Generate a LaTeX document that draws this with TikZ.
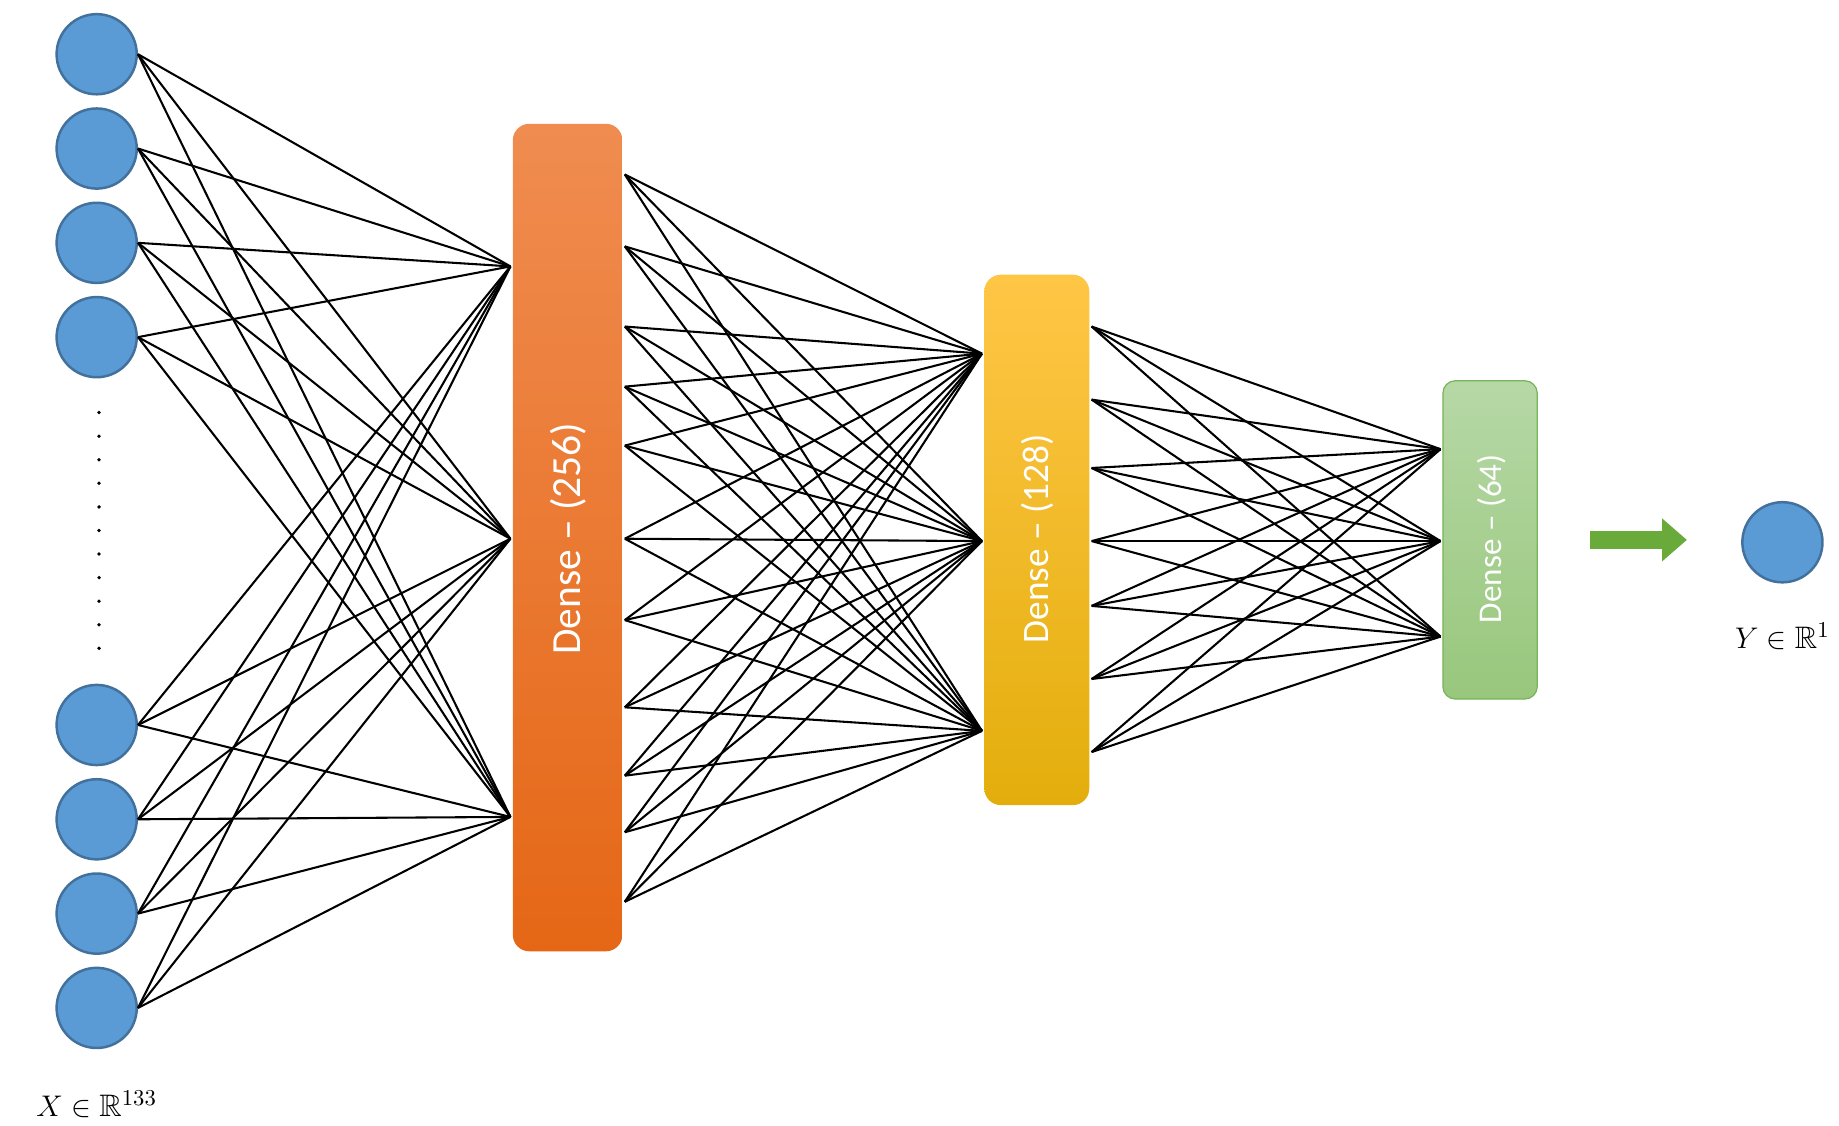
\documentclass[tikz,border=0pt]{standalone}
\usepackage{fontspec}
\usepackage{amssymb}
\setmainfont{Carlito}
\usetikzlibrary{arrows.meta}
\definecolor{cblue}{HTML}{5B9BD5}
\definecolor{cblueb}{HTML}{41719C}
\definecolor{oTop}{HTML}{F08C50}
\definecolor{oBot}{HTML}{E56716}
\definecolor{yTop}{HTML}{FFC646}
\definecolor{yBot}{HTML}{E3AE0C}
\definecolor{gTop}{HTML}{B6D8A6}
\definecolor{gBot}{HTML}{98C77C}
\definecolor{gEdge}{HTML}{78B45A}
\definecolor{gArrow}{HTML}{6AAA3A}
\tikzset{
  neuron/.style={circle,draw=cblueb,line width=1.2pt,fill=cblue,minimum size=1.36cm,inner sep=0pt},
  conn/.style={line width=1pt,black},
  boxtxt/.style={text=white,rotate=90},
}
\begin{document}
\begin{tikzpicture}[x=0.02cm,y=-0.02cm]
\useasboundingbox (0,0) rectangle (1560,955);
\foreach \i/\y in {1/46,2/126,3/206,4/286,5/615,6/695,7/775,8/855}{
  \node[neuron] (i\i) at (82,\y) {};
}
\foreach \y in {350,370,...,550}{ \fill (84,\y) circle (1.6); }
\shade[top color=oTop, bottom color=oBot, rounded corners=8] (435,105) rectangle (528,807);
\node[boxtxt,font=\fontsize{20}{24}\selectfont] (d256) at (482,457) {Dense – (256)};
\shade[top color=yTop, bottom color=yBot, rounded corners=8] (835,233) rectangle (924,683);
\node[boxtxt,font=\fontsize{18}{22}\selectfont] (d128) at (880,457) {Dense – (128)};
\shade[top color=gTop, bottom color=gBot, rounded corners=6] (1224,323) rectangle (1304,593);
\draw[gEdge,line width=0.6pt,rounded corners=6] (1224,323) rectangle (1304,593);
\node[boxtxt,font=\fontsize{16}{20}\selectfont] (d64) at (1265,457) {Dense – (64)};
\foreach \k/\y in {1/226,2/457,3/693}{ \coordinate (a\k) at (433,\y); }
\foreach \k/\y in {1/148,2/209,3/277,4/328,5/378,6/457,7/526,8/600,9/658,10/706,11/765}{ \coordinate (b\k) at (530,\y); }
\foreach \k/\y in {1/300,2/459,3/620}{ \coordinate (c\k) at (833,\y); }
\foreach \k/\y in {1/277,2/339,3/397,4/459,5/514,6/576,7/638}{ \coordinate (e\k) at (926,\y); }
\foreach \k/\y in {1/381,2/459,3/540}{ \coordinate (f\k) at (1222,\y); }
\foreach \i in {1,...,8}{\foreach \k in {1,2,3}{ \draw[conn] (i\i.east) -- (a\k); }}
\foreach \i in {1,...,11}{\foreach \k in {1,2,3}{ \draw[conn] (b\i) -- (c\k); }}
\foreach \i in {1,...,7}{\foreach \k in {1,2,3}{ \draw[conn] (e\i) -- (f\k); }}
\coordinate (as) at (1349,458);
\coordinate (ae) at (1431,458);
\draw[-{Triangle[length=12pt,width=20pt]},line width=9pt,gArrow] (as) -- (ae);
\node[neuron] (out) at (1512,460) {};
\node[font=\fontsize{15}{18}\selectfont] (xl) at (82,937) {$X\in\mathbb{R}^{133}$};
\node[font=\fontsize{15}{18}\selectfont] (yl) at (1512,540) {$Y\in\mathbb{R}^{1}$};
\end{tikzpicture}
\end{document}
